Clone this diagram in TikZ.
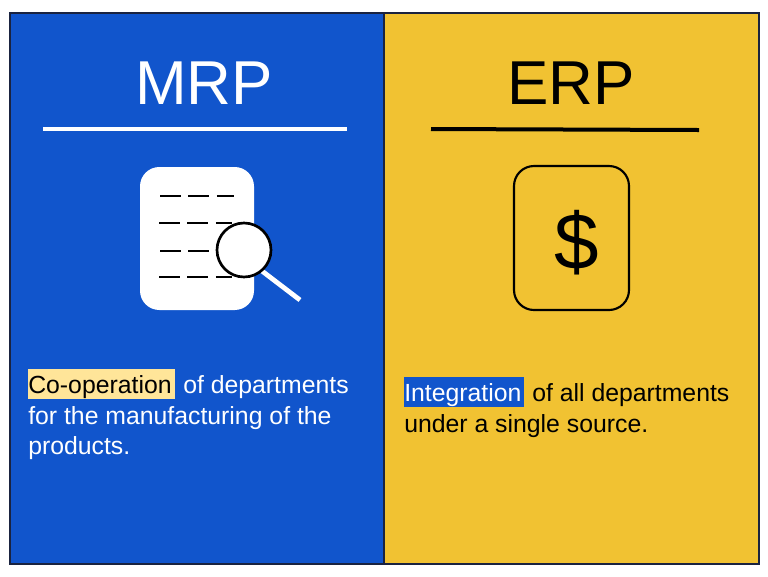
\documentclass[tikz,border=0pt]{standalone}
\usepackage{fontspec}
\setmainfont{Liberation Sans}
\definecolor{panelblue}{HTML}{1155CC}
\definecolor{panelyellow}{HTML}{F1C232}
\definecolor{hlcream}{HTML}{FFE599}
\definecolor{edgecol}{HTML}{1A2340}
\newcommand{\bodyfont}{\fontsize{18.6pt}{23.2pt}\selectfont}
\tikzset{
  x=0.75pt,y=-0.75pt,
  panel/.style={draw=edgecol,line width=0.8pt,rectangle,inner sep=0pt},
  heading/.style={font=\fontsize{46.5pt}{50pt}\selectfont,anchor=base,inner sep=0pt},
  body/.style={font=\bodyfont,anchor=base west,inner sep=0pt},
  hlbox/.style={inner ysep=0pt,inner xsep=0pt},
  rule/.style={line width=3pt},
  dashrow/.style={black,line width=1.5pt,dash pattern=on 15.5pt off 5.8pt},
}
\begin{document}
\begin{tikzpicture}
\useasboundingbox (0,0) rectangle (768,576);
\fill[white] (0,0) rectangle (768,576);
% panels
\path[panel,fill=panelblue] (10,13) rectangle (384,564);
\path[panel,fill=panelyellow] (384,13) rectangle (759,564);
% headings
\node[heading,white] (mrp) at (204,104) {MRP};
\node[heading,black] (erp) at (571,104) {ERP};
\draw[rule,white] (43,129) -- (347,129);
\draw[rule,black] (431,129) -- (699,130);
% document icon
\path[fill=white,rounded corners=14.5pt] (140,167) rectangle (254,310);
\draw[dashrow] (160,196) -- (234,196);
\draw[dashrow] (159,223) -- (232,223);
\draw[dashrow] (160,251) -- (222,251);
\draw[dashrow] (159,277) -- (232,277);
% magnifier
\draw[white,line width=3.6pt] (262,271) -- (300,300);
\draw[black,fill=white,line width=2pt] (244,250) circle[radius=27];
% dollar card
\draw[black,line width=1.6pt,rounded corners=15pt] (514,166) rectangle (629,310);
\node[font=\fontsize{60pt}{64pt}\selectfont,anchor=base,inner sep=0pt] (dollar) at (576.5,269) {\$};
% left text
\fill[hlcream] (28,369) rectangle (175,399);
\node[body,black] (co) at (28,393) {Co-operation};
\node[body,white] (co2) at (183,393) {of departments};
\node[body,white] (l2) at (28,424) {for the manufacturing of the};
\node[body,white] (l3) at (28,454) {products.};
% right text
\fill[panelblue] (404,377) rectangle (524,407);
\node[body,white] (in) at (404,401) {Integration};
\node[body,black] (in2) at (532,401) {of all departments};
\node[body,black] (r2) at (404,432) {under a single source.};
\end{tikzpicture}
\end{document}
